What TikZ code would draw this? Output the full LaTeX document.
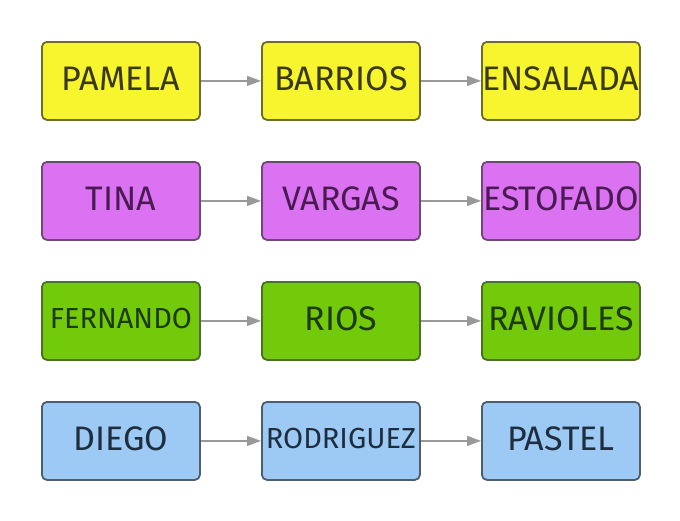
\documentclass[tikz,border=0pt]{standalone}
\usepackage{fontspec}
\setmainfont{Fira Sans}
\usetikzlibrary{arrows.meta}
\definecolor{yfill}{HTML}{F7F52E}\definecolor{ydraw}{HTML}{6E6B2E}\definecolor{ytext}{HTML}{3A3817}
\definecolor{pfill}{HTML}{DB72F2}\definecolor{pdraw}{HTML}{6E4A72}\definecolor{ptext}{HTML}{4A1A52}
\definecolor{gfill}{HTML}{72CA0A}\definecolor{gdraw}{HTML}{4E6E2E}\definecolor{gtext}{HTML}{1E3A0A}
\definecolor{bfill}{HTML}{9CCAF4}\definecolor{bdraw}{HTML}{4E5E6E}\definecolor{btext}{HTML}{1E2E3E}
\definecolor{arr}{HTML}{999999}
\tikzset{
  box/.style={draw, line width=1.8pt, rounded corners=5pt, minimum width=158pt, minimum height=78pt, inner sep=0pt, text depth=5pt, anchor=north west},
  ybox/.style={box, fill=yfill, draw=ydraw, text=ytext},
  pbox/.style={box, fill=pfill, draw=pdraw, text=ptext},
  gbox/.style={box, fill=gfill, draw=gdraw, text=gtext},
  bbox/.style={box, fill=bfill, draw=bdraw, text=btext},
  big/.style={font=\fontsize{34}{36}\selectfont},
  small/.style={font=\fontsize{29}{31}\selectfont},
  conn/.style={draw=arr, line width=1.3pt, -{Triangle[length=14pt,width=10pt]}}
}
\begin{document}
\begin{tikzpicture}[x=1pt,y=-1pt]
\useasboundingbox (0,0) rectangle (680,520);
\node[ybox,big] (a1) at (41,41) {PAMELA};
\node[ybox,big] (a2) at (261,41) {BARRIOS};
\node[ybox,big] (a3) at (481,41) {ENSALADA};
\node[pbox,big] (b1) at (41,161) {TINA};
\node[pbox,big] (b2) at (261,161) {VARGAS};
\node[pbox,big] (b3) at (481,161) {ESTOFADO};
\node[gbox,small] (c1) at (41,281) {FERNANDO};
\node[gbox,big] (c2) at (261,281) {RIOS};
\node[gbox,big] (c3) at (481,281) {RAVIOLES};
\node[bbox,big] (d1) at (41,401) {DIEGO};
\node[bbox,small] (d2) at (261,401) {RODRIGUEZ};
\node[bbox,big] (d3) at (481,401) {PASTEL};
\foreach \r in {a,b,c,d}{
  \draw[conn] (\r1.east) -- (\r2.west);
  \draw[conn] (\r2.east) -- (\r3.west);
}
\end{tikzpicture}
\end{document}
